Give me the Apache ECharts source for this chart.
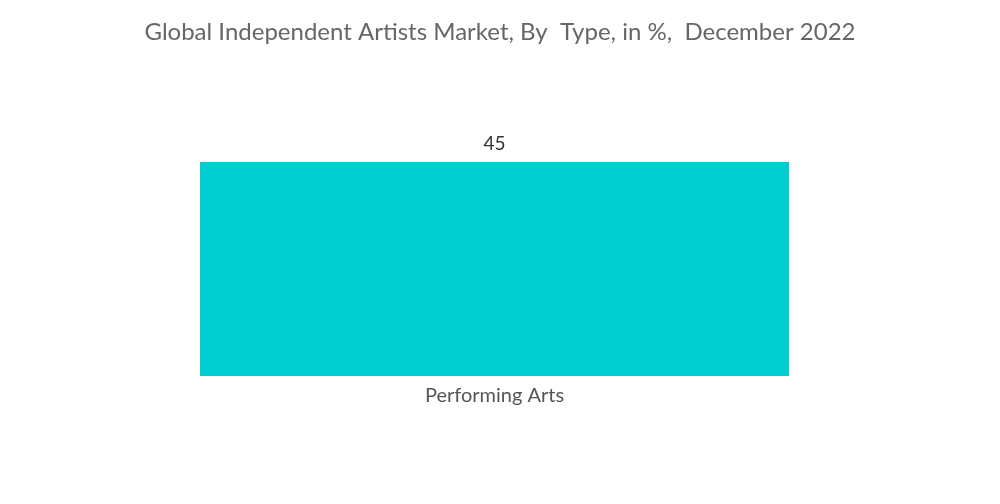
<!DOCTYPE html>
<html>
<head>
<meta charset="utf-8">
<script src="https://cdn.jsdelivr.net/npm/echarts@6/dist/echarts.min.js"></script>
<style>
  html, body { margin: 0; padding: 0; background: #fff; }
  #main { width: 1000px; height: 504px; }
</style>
</head>
<body>
<div id="main"></div>
<script>
// data
const categories = ['Performing Arts'];
const shares = [45];

const chart = echarts.init(document.getElementById('main'));
chart.setOption({
  animation: false,
  title: {
    text: 'Global Independent Artists Market, By  Type, in %,  December 2022',
    left: 'center',
    top: 15,
    textStyle: { color: '#666666', fontSize: 24, fontWeight: 'normal', fontFamily: 'Lato' }
  },
  grid: { left: 200, right: 211, top: 162, bottom: 128 },
  xAxis: {
    type: 'category',
    data: categories,
    axisLine: { show: false },
    axisTick: { show: false },
    axisLabel: { color: '#555555', fontSize: 20, fontFamily: 'Lato', margin: 10 }
  },
  yAxis: {
    type: 'value',
    min: 0,
    max: 45,
    show: false
  },
  series: [{
    type: 'bar',
    data: shares,
    barWidth: '100%',
    itemStyle: { color: '#00CED1' },
    label: {
      show: true,
      position: 'top',
      distance: 9,
      color: '#333333',
      fontSize: 19,
      fontFamily: 'Lato'
    }
  }]
});
</script>
</body>
</html>
